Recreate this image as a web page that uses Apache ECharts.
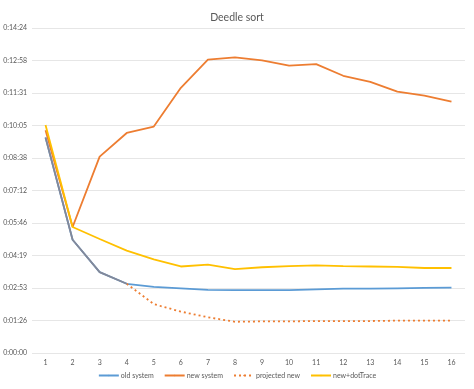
<!DOCTYPE html>
<html><head><meta charset="utf-8">
<script src="https://cdn.jsdelivr.net/npm/echarts@6/dist/echarts.min.js"></script>
<style>html,body{margin:0;padding:0;background:#fff}#c{width:474px;height:389px}</style>
</head><body><div id="c"></div>
<script>
const categories = ['1','2','3','4','5','6','7','8','9','10','11','12','13','14','15','16'];
// values in seconds
const oldSystem = [573, 301, 215, 184, 176, 172, 168, 167, 167, 167, 169, 171, 171, 172, 173, 174];
const newSystem = [592, 335, 522, 585, 602, 705, 780, 786, 778, 764, 768, 737, 721, 695, 684, 668];
const projectedNew = [null, null, null, 184, 130, 110, 95, 83, 84, 84, 85, 85, 85, 86, 86, 86];
const newDotTrace = [606, 335, 303, 272, 249, 230, 235, 223, 228, 231, 233, 231, 230, 229, 226, 226];
const sharedStart = [573, 301, 215, 184, null, null, null, null, null, null, null, null, null, null, null, null];
const yTicks = ['0:00:00','0:01:26','0:02:53','0:04:19','0:05:46','0:07:12','0:08:38','0:10:05','0:11:31','0:12:58','0:14:24'];

function fmt(v){
  const s = Math.round(v);
  const h = Math.floor(s/3600), m = Math.floor((s%3600)/60), sec = s%60;
  return h + ':' + String(m).padStart(2,'0') + ':' + String(sec).padStart(2,'0');
}
const font = 'Lato, sans-serif';
const chart = echarts.init(document.getElementById('c'));
chart.setOption({
  animation:false,
  title:{text:'Deedle sort', left:'center', top:7, textStyle:{fontFamily:font, fontSize:10.5, fontWeight:'normal', color:'#595959'}},
  grid:{left:32, right:9, top:28, bottom:36, outerBoundsMode:'none', containLabel:false},
  legend:{bottom:5, left:'center', itemWidth:20, itemHeight:2, itemGap:10,
    data:['old system','new system','projected new','new+dotTrace'],
    textStyle:{fontFamily:font, fontSize:7, color:'#595959', padding:[0,0,0,-3]}},
  xAxis:{type:'category', data:categories, boundaryGap:true,
    axisLine:{show:false}, axisTick:{show:false},
    axisLabel:{fontFamily:font, fontSize:7, color:'#595959', margin:6}},
  yAxis:{type:'value', min:0, max:864, interval:86.4,
    axisLabel:{formatter:fmt, fontFamily:font, fontSize:7, color:'#595959', margin:5},
    splitLine:{lineStyle:{color:'#e6e6e6', width:1}}},
  series:[
    {name:'old system', type:'line', data:oldSystem, symbol:'none', lineStyle:{color:'#5B9BD5', width:1.8}, itemStyle:{color:'#5B9BD5'}, z:2},
    {name:'new system', type:'line', data:newSystem, symbol:'none', lineStyle:{color:'#ED7D31', width:1.8}, itemStyle:{color:'#ED7D31'}, z:2},
    {name:'projected new', type:'line', data:projectedNew, symbol:'none', lineStyle:{color:'#ED7D31', width:1.8, type:[2,3]}, itemStyle:{color:'#ED7D31'}, z:2},
    {name:'new+dotTrace', type:'line', data:newDotTrace, symbol:'none', lineStyle:{color:'#FFC000', width:1.8}, itemStyle:{color:'#FFC000'}, z:2},
    {name:'shared', type:'line', data:sharedStart, symbol:'none', lineStyle:{color:'#848898', width:1.8}, itemStyle:{color:'#848898'}, z:3}
  ]
});
</script></body></html>
